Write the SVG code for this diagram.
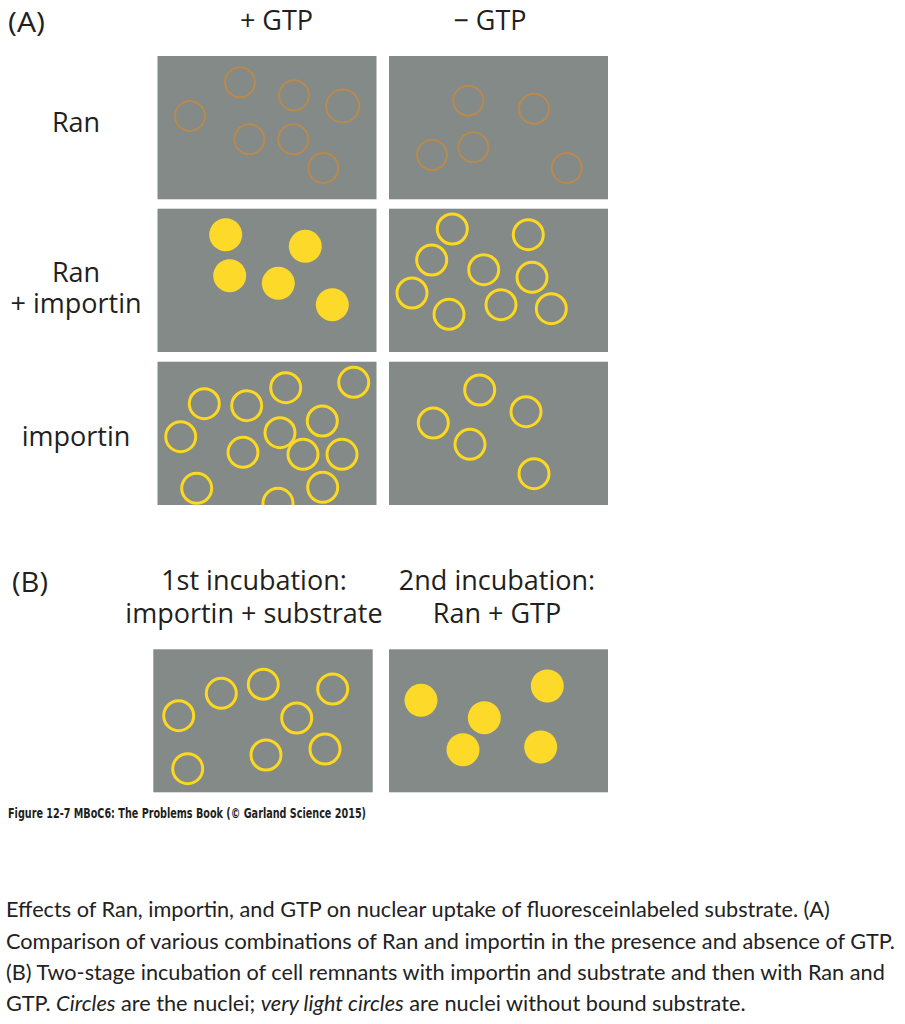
<svg xmlns="http://www.w3.org/2000/svg" width="905" height="1024" viewBox="0 0 905 1024">
<style>
.bg{fill:#848a88}
.o{fill:none;stroke:#b98a4e;stroke-width:2}
.y{fill:none;stroke:#fcd821;stroke-width:3}
.f{fill:#fdd92a}
.lab{font-family:"Open Sans","Noto Sans",sans-serif;font-size:27px;fill:#231f20;text-anchor:middle}
.hd{font-family:"Open Sans","Noto Sans",sans-serif;font-size:27px;fill:#231f20}
.fig{font-family:"DejaVu Sans Condensed","Liberation Sans",sans-serif;font-size:14px;font-weight:bold;fill:#231f20}
.cap{font-family:Lato,"Liberation Sans",sans-serif;font-size:21.7px;fill:#222}
</style>
<defs>
<clipPath id="c5"><rect x="157.5" y="361.7" width="219" height="143.3"/></clipPath>
</defs>
<g id="labels">
<text class="hd" x="8" y="32" textLength="37" lengthAdjust="spacingAndGlyphs">(A)</text>
<text class="lab" x="276.5" y="30">+ GTP</text>
<text class="lab" x="490" y="30">− GTP</text>
<text class="lab" x="76" y="132">Ran</text>
<text class="lab" x="76" y="282">Ran</text>
<text class="lab" x="76" y="313">+ importin</text>
<text class="lab" x="76" y="446">importin</text>
<text class="hd" x="12" y="592" textLength="36" lengthAdjust="spacingAndGlyphs">(B)</text>
<text class="lab" x="254" y="590">1st incubation:</text>
<text class="lab" x="254" y="623">importin + substrate</text>
<text class="lab" x="497" y="590">2nd incubation:</text>
<text class="lab" x="497" y="623">Ran + GTP</text>
<text class="fig" x="8" y="818" textLength="358" lengthAdjust="spacingAndGlyphs">Figure 12-7  MBoC6: The Problems Book (© Garland Science 2015)</text>
</g>
<g id="panel-ran-plus">
<rect class="bg" x="157.5" y="56" width="219" height="143.3"/>
<circle class="o" cx="190" cy="116" r="15"/>
<circle class="o" cx="240" cy="82.3" r="15"/>
<circle class="o" cx="294" cy="95.3" r="15"/>
<circle class="o" cx="342.7" cy="106" r="16.5"/>
<circle class="o" cx="249.3" cy="139.3" r="15"/>
<circle class="o" cx="293.3" cy="139.3" r="15"/>
<circle class="o" cx="323.3" cy="168" r="15"/>
</g>
<g id="panel-ran-minus">
<rect class="bg" x="389" y="56" width="219" height="143.3"/>
<circle class="o" cx="468.3" cy="100.7" r="15"/>
<circle class="o" cx="534" cy="108.7" r="15"/>
<circle class="o" cx="432" cy="155" r="15"/>
<circle class="o" cx="473.3" cy="147.3" r="15"/>
<circle class="o" cx="566.7" cy="168" r="15"/>
</g>
<g id="panel-ranimp-plus">
<rect class="bg" x="157.5" y="208.7" width="219" height="143.3"/>
<circle class="f" cx="225.7" cy="234.7" r="16.5"/>
<circle class="f" cx="305.3" cy="246.3" r="16.5"/>
<circle class="f" cx="229.7" cy="275.7" r="16.5"/>
<circle class="f" cx="278.3" cy="283.3" r="16.5"/>
<circle class="f" cx="332.3" cy="304.7" r="16.5"/>
</g>
<g id="panel-ranimp-minus">
<rect class="bg" x="389" y="208.7" width="219" height="143.3"/>
<circle class="y" cx="452.3" cy="229" r="15"/>
<circle class="y" cx="528.3" cy="234.7" r="15"/>
<circle class="y" cx="431.7" cy="260" r="15"/>
<circle class="y" cx="483.7" cy="269.7" r="15"/>
<circle class="y" cx="532" cy="277.3" r="15"/>
<circle class="y" cx="412" cy="293" r="15"/>
<circle class="y" cx="449" cy="314.3" r="15"/>
<circle class="y" cx="501" cy="304.7" r="15"/>
<circle class="y" cx="551.3" cy="308.7" r="15"/>
</g>
<g id="panel-imp-plus">
<rect class="bg" x="157.5" y="361.7" width="219" height="143.3"/>
<g clip-path="url(#c5)">
<circle class="y" cx="204.3" cy="403.7" r="15"/>
<circle class="y" cx="246.7" cy="405.7" r="15"/>
<circle class="y" cx="285.7" cy="387.7" r="15"/>
<circle class="y" cx="353.7" cy="382.3" r="15"/>
<circle class="y" cx="322.3" cy="421" r="15"/>
<circle class="y" cx="180.7" cy="436.7" r="15"/>
<circle class="y" cx="280" cy="432.7" r="15"/>
<circle class="y" cx="243" cy="452.3" r="15"/>
<circle class="y" cx="303" cy="454.3" r="15"/>
<circle class="y" cx="342" cy="454.3" r="15"/>
<circle class="y" cx="196.7" cy="488.3" r="15"/>
<circle class="y" cx="322.7" cy="487.3" r="15"/>
<circle class="y" cx="278" cy="503.3" r="15"/>
</g>
</g>
<g id="panel-imp-minus">
<rect class="bg" x="389" y="361.7" width="219" height="143.3"/>
<circle class="y" cx="479.7" cy="390" r="15"/>
<circle class="y" cx="433.3" cy="423" r="15"/>
<circle class="y" cx="526" cy="411.7" r="15"/>
<circle class="y" cx="470" cy="444.3" r="15"/>
<circle class="y" cx="534" cy="473.7" r="15"/>
</g>
<g id="panel-b1">
<rect class="bg" x="153.3" y="649.3" width="219.4" height="143"/>
<circle class="y" cx="178.7" cy="715.7" r="15"/>
<circle class="y" cx="221.3" cy="693.3" r="15"/>
<circle class="y" cx="263.3" cy="684.3" r="15"/>
<circle class="y" cx="332.7" cy="689" r="15"/>
<circle class="y" cx="296.7" cy="718" r="15"/>
<circle class="y" cx="187.7" cy="768.7" r="15"/>
<circle class="y" cx="266" cy="755" r="15"/>
<circle class="y" cx="325" cy="749" r="15"/>
</g>
<g id="panel-b2">
<rect class="bg" x="389" y="649.3" width="219" height="143"/>
<circle class="f" cx="421" cy="700.3" r="16.5"/>
<circle class="f" cx="547.3" cy="686" r="16.5"/>
<circle class="f" cx="484.3" cy="717.7" r="16.5"/>
<circle class="f" cx="463" cy="749.7" r="16.5"/>
<circle class="f" cx="540.7" cy="747" r="16.5"/>
</g>
<g id="caption">
<text class="cap" x="6" y="917">Effects of Ran, importin, and GTP on nuclear uptake of fluoresceinlabeled substrate. (A)</text>
<text class="cap" x="6" y="949">Comparison of various combinations of Ran and importin in the presence and absence of GTP.</text>
<text class="cap" x="6" y="980">(B) Two-stage incubation of cell remnants with importin and substrate and then with Ran and</text>
<text class="cap" x="6" y="1011">GTP. <tspan font-style="italic">Circles</tspan> are the nuclei; <tspan font-style="italic">very light circles</tspan> are nuclei without bound substrate.</text>
</g>
</svg>
